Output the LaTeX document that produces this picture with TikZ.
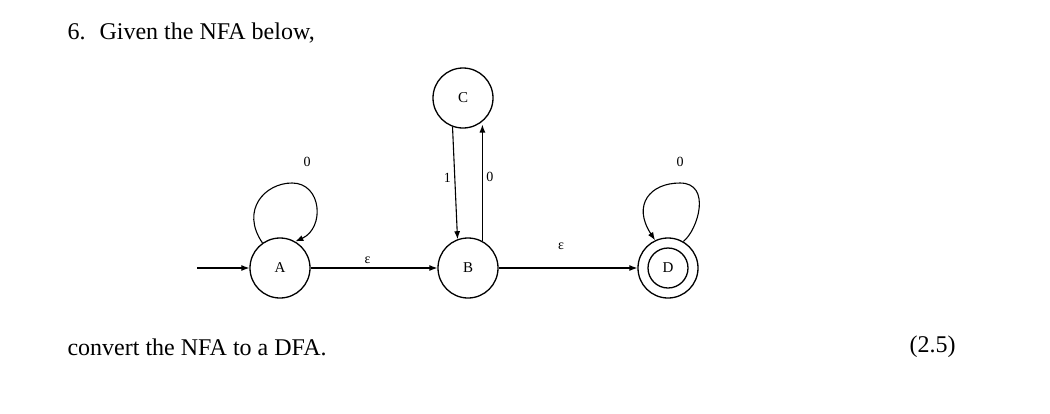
\documentclass[tikz,border=0pt]{standalone}
\usepackage{fontspec}
\setmainfont{Liberation Serif}
\usetikzlibrary{arrows.meta}
\begin{document}
\begin{tikzpicture}[x=1pt,y=-1pt,
  st/.style={circle,draw,line width=1.3pt,minimum size=60pt,inner sep=0pt,font=\fontsize{15}{17}\selectfont},
  tr/.style={-{Latex[length=8pt,width=6pt]},line width=1.1pt},
  lb/.style={font=\fontsize{14}{16}\selectfont},
  big/.style={font=\fontsize{24}{28}\selectfont,anchor=west}]
\useasboundingbox (0,0) rectangle (1050,413);
\node[big] (t1) at (64,33) {6.\hspace{14pt}Given the NFA below,};
\node[big] (t2) at (64,347) {convert the NFA to a DFA.};
\node[big] (t3) at (906,347) {(2.5)};
\node[st] (A) at (280,268) {A};
\node[st] (B) at (468,268) {B};
\node[st] (C) at (463,98) {C};
\node[st] (D) at (668,268) {D};
\node[circle,draw,line width=1.3pt,minimum size=40pt] (Di) at (668,268) {};
\coordinate (s) at (197,268);
\draw[tr] (s) -- (A);
\draw[tr] (A) -- node[lb,above,pos=0.45] {ε} (B);
\draw[tr] (B) -- node[lb,above,pos=0.45,yshift=14pt] {ε} (D);
\draw[tr] (A.125) .. controls (240,210) and (265,183) .. (292,183) .. controls (322,183) and (325,228) .. (A.60);
\node[lb] (l0a) at (307,162) {0};
\draw[tr] (D.60) .. controls (698,230) and (712,183) .. (680,183) .. controls (650,183) and (632,205) .. (D.115);
\node[lb] (l0d) at (680,162) {0};
\draw[tr] (C.250) -- node[lb,left,pos=0.45] {1} (B.110);
\draw[tr] (B.62) -- node[lb,right,pos=0.55] {0} (B.62 |- C.300);
\end{tikzpicture}
\end{document}
